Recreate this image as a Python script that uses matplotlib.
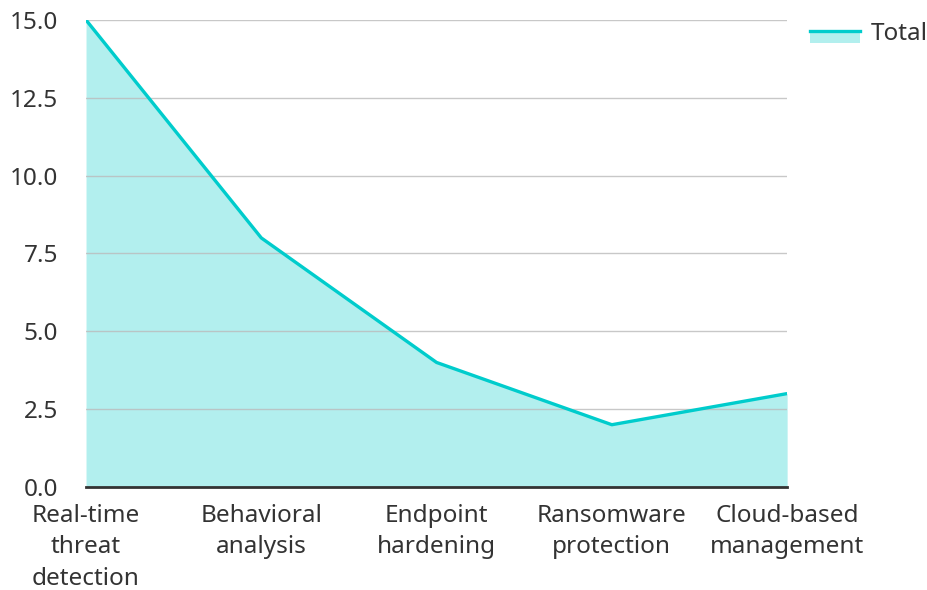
import matplotlib
matplotlib.use("Agg")
import matplotlib.pyplot as plt
from matplotlib.lines import Line2D
from matplotlib.patches import Rectangle
from matplotlib.legend_handler import HandlerBase

categories = ["Real-time\nthreat\ndetection", "Behavioral\nanalysis", "Endpoint\nhardening",
              "Ransomware\nprotection", "Cloud-based\nmanagement"]
totals = [15, 8, 4, 2, 3]
y_ticks = [0, 2.5, 5, 7.5, 10, 12.5, 15]

LINE = "#00CCCC"
FILL = "#B2EFEE"
FS = 17.5

plt.rcParams['font.family'] = ['Noto Sans', 'DejaVu Sans']


class AreaHandler(HandlerBase):
    def create_artists(self, legend, orig, xd, yd, w, h, fontsize, trans):
        top = -yd + h * 0.55
        rect = Rectangle((-xd, top - h * 0.75), w, h * 0.75, facecolor=FILL, edgecolor='none', transform=trans)
        line = Line2D([-xd, -xd + w], [top, top], color=LINE, lw=2.4, transform=trans)
        return [rect, line]


fig = plt.figure(figsize=(9.28, 5.90), dpi=100)
ax = fig.add_axes([0.0927, 0.1746, 0.7555, 0.7915])

x = list(range(len(categories)))
ax.fill_between(x, totals, 0, color=FILL, lw=0, zorder=1)
ax.plot(x, totals, color=LINE, lw=2.4, zorder=3, solid_capstyle='butt')

ax.set_xlim(0, len(categories) - 1)
ax.set_ylim(0, 15)
ax.set_yticks(y_ticks)
ax.set_yticklabels([f"{v:.1f}" for v in y_ticks])
ax.set_xticks(x)
ax.set_xticklabels(categories, linespacing=1.42)
ax.yaxis.grid(True, color="#bbbbbb", lw=1, alpha=0.8, zorder=2)
ax.set_axisbelow(False)
for s in ["top", "right", "left"]:
    ax.spines[s].set_visible(False)
ax.spines["bottom"].set_color("#333333")
ax.spines["bottom"].set_linewidth(2)
ax.spines["bottom"].set_zorder(4)
ax.tick_params(length=0, labelsize=FS, colors="#333333")
ax.tick_params(axis='x', pad=12)
ax.tick_params(axis='y', pad=20)

fig.legend([object()], ["Total"], handler_map={object: AreaHandler()},
           loc="upper right", bbox_to_anchor=(1.0, 1 - 22 / 590), frameon=False,
           fontsize=FS, handlelength=2.06, handletextpad=0.45, labelcolor="#333333",
           borderaxespad=0, borderpad=0)

fig.savefig("out.png", dpi=100)
